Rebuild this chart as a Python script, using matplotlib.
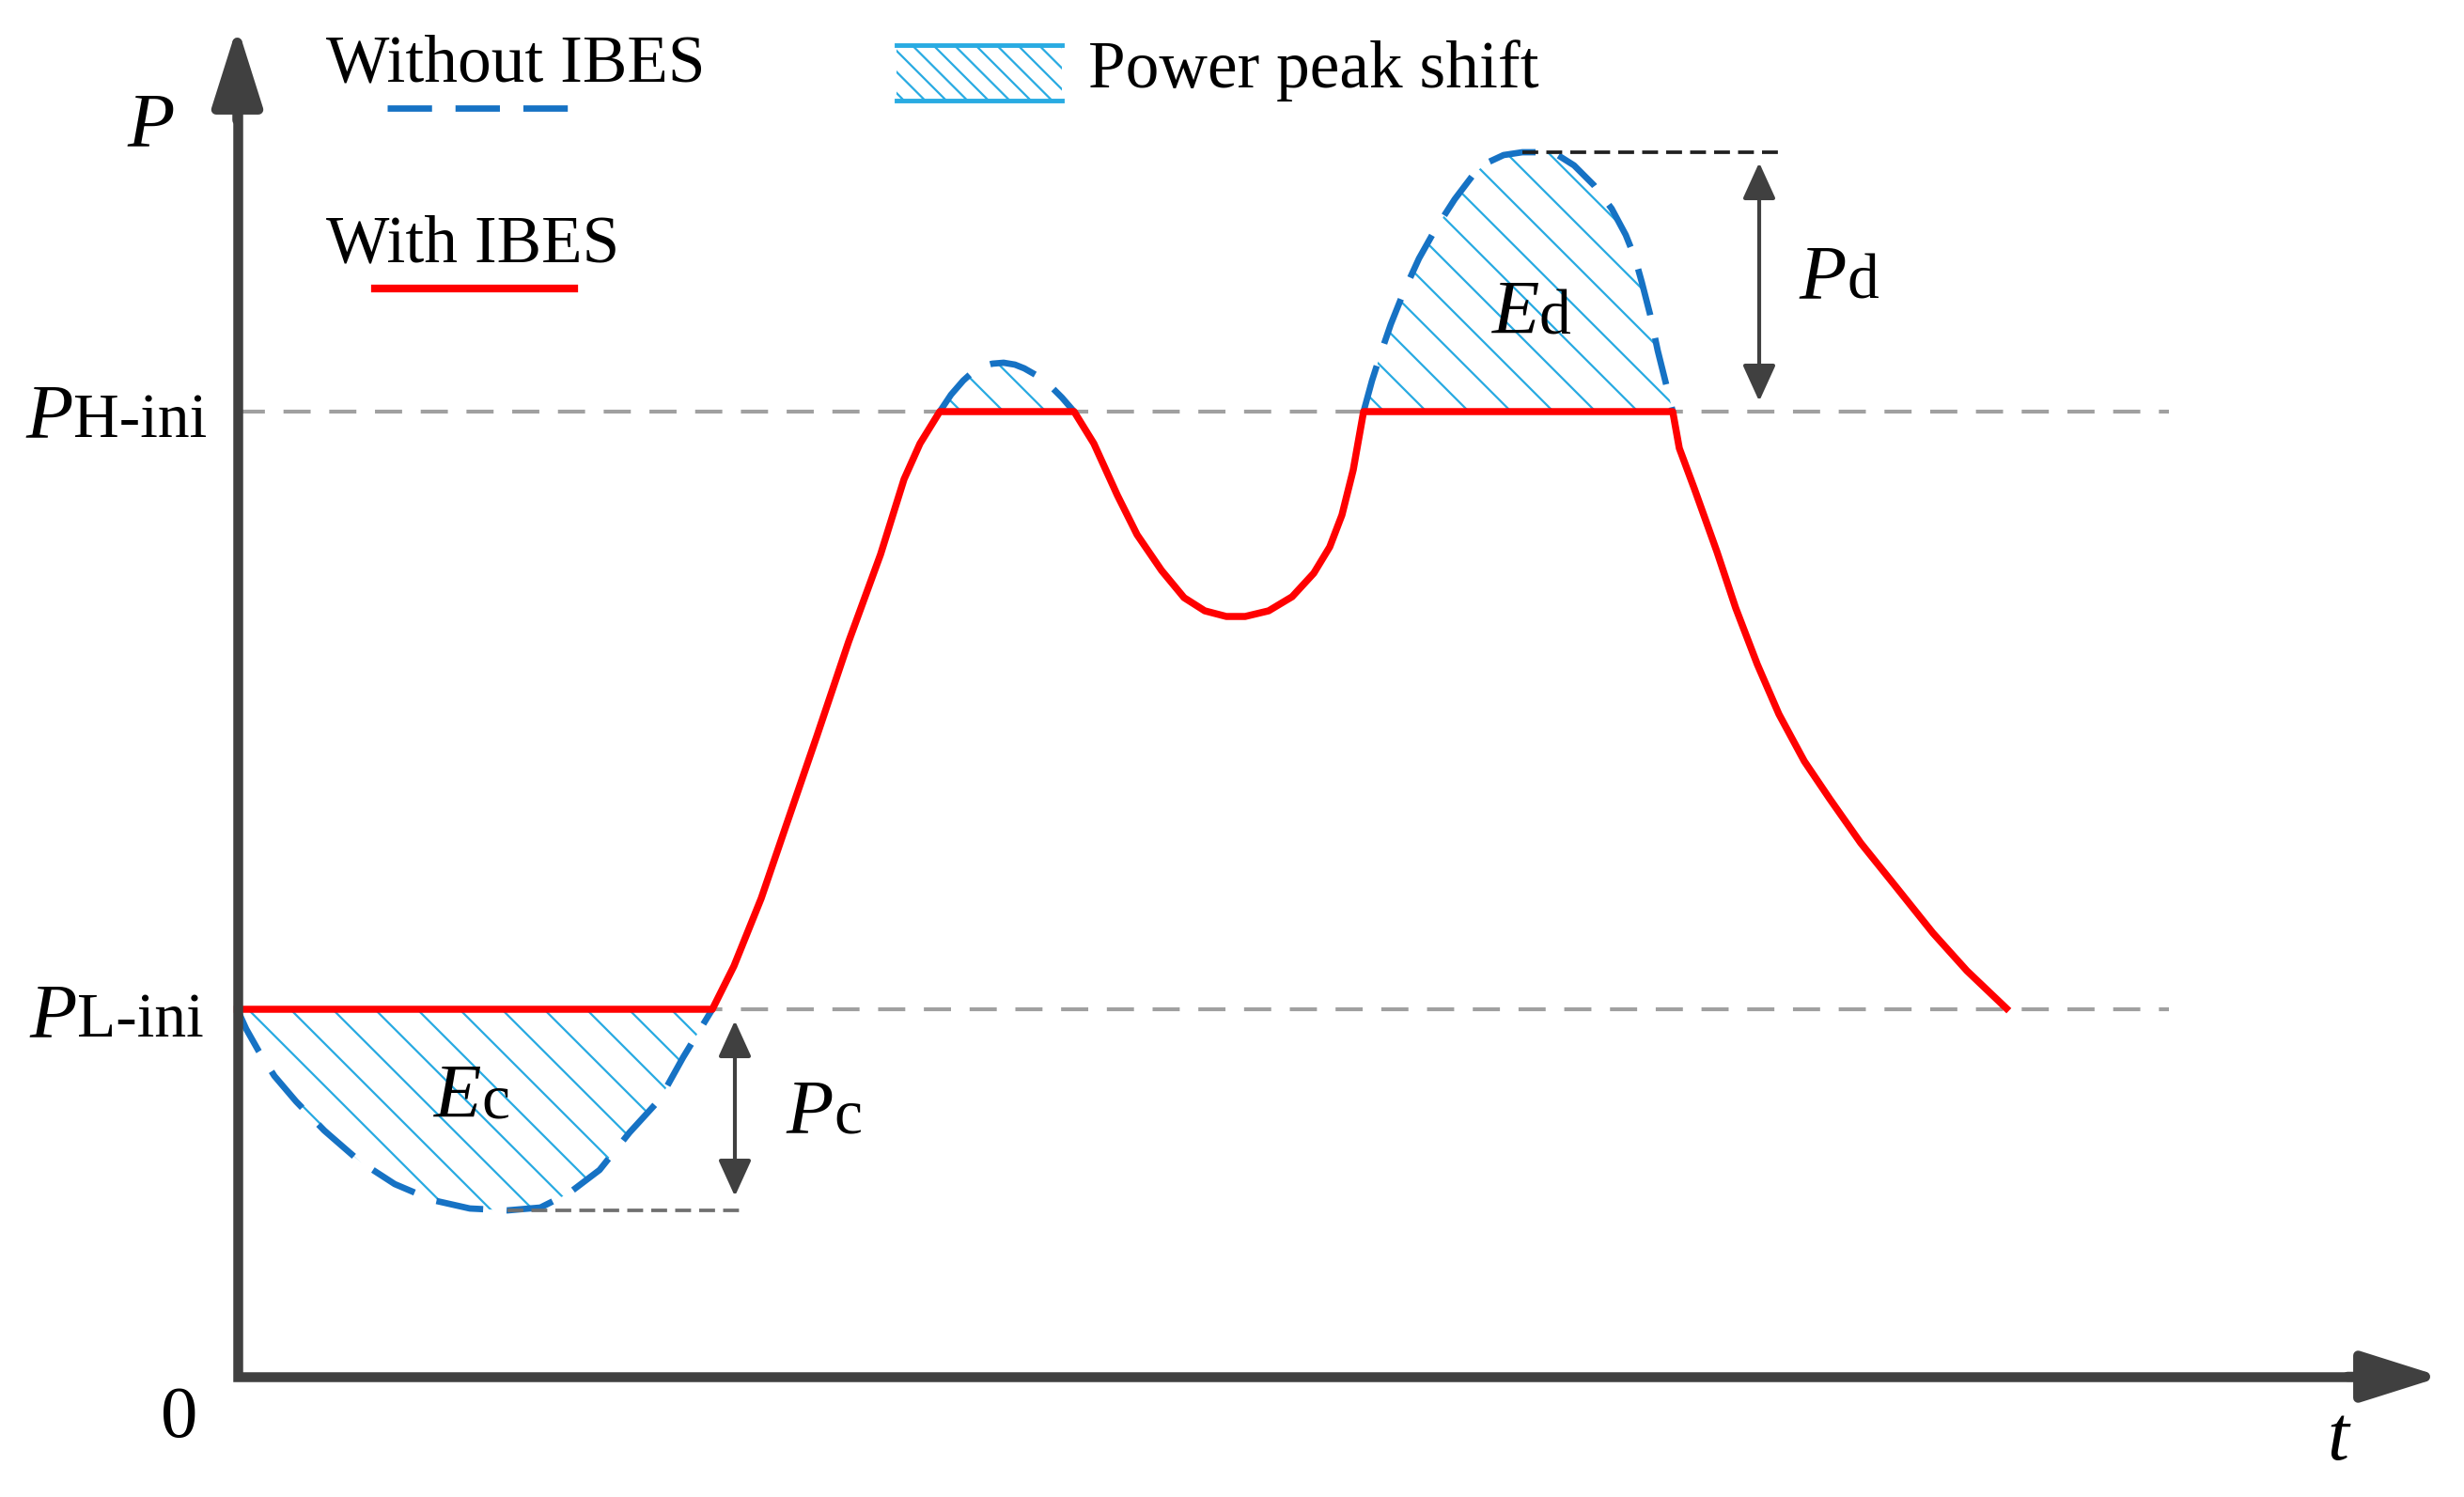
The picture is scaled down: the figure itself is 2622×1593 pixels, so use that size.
import matplotlib
matplotlib.use("Agg")
import matplotlib.pyplot as plt
from matplotlib.patches import Rectangle

plt.rcParams['font.family'] = ['Liberation Serif', 'DejaVu Serif']
plt.rcParams['hatch.linewidth'] = 0.6

# power levels
p_low = 3.91
p_high = 10.27

# load curve with IBES (red)
t_with = [0, 5.055, 5.285, 5.575, 5.835, 6.165, 6.505, 6.845, 7.095, 7.265, 7.475,
          8.905, 9.115, 9.365, 9.575, 9.835, 10.075, 10.295, 10.525, 10.725, 10.975,
          11.225, 11.455, 11.625, 11.755, 11.875, 11.985, 15.275, 15.345, 15.505,
          15.745, 15.945, 16.175, 16.405, 16.675, 16.945, 17.275, 17.645, 18.045,
          18.405, 18.825]
p_with = [3.91, 3.91, 4.37, 5.09, 5.85, 6.81, 7.82, 8.75, 9.55, 9.93, 10.27,
          10.27, 9.93, 9.38, 8.96, 8.58, 8.29, 8.15, 8.09, 8.09, 8.15,
          8.30, 8.55, 8.83, 9.17, 9.65, 10.27, 10.27, 9.88, 9.45,
          8.78, 8.18, 7.58, 7.05, 6.55, 6.15, 5.68, 5.22, 4.72,
          4.32, 3.92]

# load curve without IBES (blue dashed), only where it differs
t_valley = [0, 0.095, 0.225, 0.395, 0.625, 0.925, 1.305, 1.675, 2.075, 2.475, 2.875,
            3.225, 3.525, 3.855, 4.175, 4.495, 4.745, 5.055]
p_valley = [3.91, 3.70, 3.47, 3.20, 2.93, 2.62, 2.29, 2.05, 1.88, 1.79, 1.77,
            1.80, 1.95, 2.20, 2.60, 2.95, 3.40, 3.91]
t_bump = [7.475, 7.595, 7.725, 7.825, 7.925, 8.035, 8.155, 8.275, 8.375, 8.515, 8.645, 8.775, 8.905]
p_bump = [10.27, 10.45, 10.60, 10.69, 10.75, 10.78, 10.79, 10.77, 10.73, 10.65, 10.55, 10.42, 10.27]
t_peak = [11.985, 12.075, 12.165, 12.275, 12.415, 12.575, 12.755, 12.955, 13.175, 13.325,
          13.475, 13.675, 13.875, 14.035, 14.225, 14.435, 14.625, 14.775, 14.875, 14.945,
          15.035, 15.115, 15.195, 15.275]
p_peak = [10.27, 10.60, 10.88, 11.20, 11.55, 11.90, 12.22, 12.53, 12.82, 12.93,
          13.00, 13.03, 13.03, 13.01, 12.89, 12.68, 12.43, 12.15, 11.90, 11.65,
          11.30, 10.92, 10.60, 10.27]

red = '#ff0000'
blue = '#1672c4'
hatch_col = '#29abe2'
axis_col = '#404040'
grey = '#a0a0a0'

fig = plt.figure(figsize=(2622 / 270, 1593 / 270), dpi=270)
ax = fig.add_axes([0, 0, 1, 1])
ax.set_xlim(-2.525, 23.695)
ax.set_ylim(-1.28, 14.65)
ax.axis('off')

# reference levels
for lev in [p_low, p_high]:
    ax.plot([0, 20.55], [lev, lev], color=grey, lw=1.1, dashes=(7, 4.8), zorder=1)

# hatched areas
ax.fill_between(t_valley, p_valley, p_low, facecolor='none', edgecolor=hatch_col, lw=0, hatch='\\\\', zorder=2)
ax.fill_between(t_bump, p_high, p_bump, facecolor='none', edgecolor=hatch_col, lw=0, hatch='\\\\', zorder=2)
ax.fill_between(t_peak, p_high, p_peak, facecolor='none', edgecolor=hatch_col, lw=0, hatch='\\\\', zorder=2)

for tt, pp in [(t_valley, p_valley), (t_bump, p_bump), (t_peak, p_peak)]:
    ax.plot(tt, pp, color=blue, lw=1.8, dashes=(7.5, 3.7), zorder=3, solid_joinstyle='round')
ax.plot(t_with, p_with, color=red, lw=2.0, zorder=4, solid_joinstyle='round')

# axes with arrows
t_end = 23.455
p_end = 14.37
ax.plot([0, 0, t_end - 0.6], [p_end - 0.6, 0, 0], color=axis_col, lw=2.8,
        solid_joinstyle='miter', solid_capstyle='butt', zorder=5)
head = '-|>,head_length=0.95,head_width=0.3'
ax.annotate('', xy=(t_end, 0), xytext=(t_end - 1.0, 0),
            arrowprops=dict(arrowstyle=head, mutation_scale=20, lw=2.8, color=axis_col,
                            shrinkA=0, shrinkB=0), zorder=5)
ax.annotate('', xy=(0, p_end), xytext=(0, p_end - 1.0),
            arrowprops=dict(arrowstyle=head, mutation_scale=20, lw=2.8, color=axis_col,
                            shrinkA=0, shrinkB=0), zorder=5)

# Pc and Pd markers
valley_min = min(p_valley)
peak_max = max(p_peak)
t_vmin = t_valley[p_valley.index(valley_min)]
t_pmax = t_peak[p_peak.index(peak_max)]
ax.plot([t_vmin, 5.345], [valley_min, valley_min], color='#707070', lw=1.0, dashes=(4.5, 2.3), zorder=3)
ax.plot([t_pmax, 16.405], [peak_max, peak_max], color='#202020', lw=1.0, dashes=(4.5, 2.3), zorder=3)
dbl = '<|-|>,head_length=0.44,head_width=0.2'
ax.annotate('', xy=(5.295, p_low - 0.12), xytext=(5.295, valley_min + 0.15),
            arrowprops=dict(arrowstyle=dbl, mutation_scale=20, lw=1.1, color=axis_col,
                            shrinkA=0, shrinkB=0))
ax.annotate('', xy=(16.195, peak_max - 0.11), xytext=(16.195, p_high + 0.11),
            arrowprops=dict(arrowstyle=dbl, mutation_scale=20, lw=1.1, color=axis_col,
                            shrinkA=0, shrinkB=0))


def sub_label(x, y, main, sub):
    ax.text(x, y, main, ha='right', va='baseline', fontsize=22, fontstyle='italic')
    ax.text(x, y, sub, ha='left', va='baseline', fontsize=18)


sub_label(-1.745, 10.0, 'P', 'H-ini')
sub_label(-1.705, 3.62, 'P', 'L-ini')
sub_label(2.595, 2.76, 'E', 'c')
sub_label(6.345, 2.60, 'P', 'c')
sub_label(13.855, 11.10, 'E', 'd')
sub_label(17.125, 11.48, 'P', 'd')
ax.text(-0.915, 13.10, 'P', ha='center', va='baseline', fontsize=22, fontstyle='italic')
ax.text(-0.615, -0.45, '0', ha='center', va='center', fontsize=21)
ax.text(22.355, -0.68, 't', ha='center', va='center', fontsize=22, fontstyle='italic')

# legend drawn by hand
ax.text(0.945, 13.78, 'Without IBES', ha='left', va='baseline', fontsize=19)
ax.plot([1.595, 3.525], [13.50, 13.50], color=blue, lw=1.8, dashes=(7, 3.7))
ax.text(0.945, 11.87, 'With IBES', ha='left', va='baseline', fontsize=19)
ax.plot([1.465, 3.585], [11.58, 11.58], color=red, lw=2.2)
ax.add_patch(Rectangle((7.015, 13.58), 1.76, 0.59, facecolor='none', edgecolor=hatch_col,
                       lw=0, hatch='\\\\\\\\'))
ax.plot([7.015, 8.775], [13.58, 13.58], color=hatch_col, lw=1.3)
ax.plot([7.015, 8.775], [14.17, 14.17], color=hatch_col, lw=1.3)
ax.text(9.055, 13.72, 'Power peak shift', ha='left', va='baseline', fontsize=19)

fig.savefig('out.png', dpi=270)
